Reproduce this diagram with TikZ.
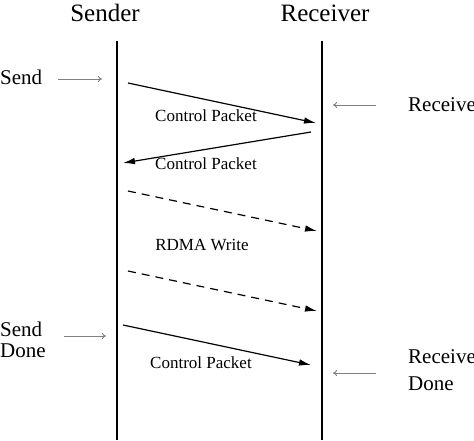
\documentclass[tikz,border=0pt]{standalone}
\usepackage{fontspec}
\setmainfont{Liberation Serif}
\usetikzlibrary{arrows.meta,positioning}
\tikzstyle{title} = [font=\fontsize{25}{30}\selectfont, inner sep=0pt]
\tikzstyle{side}  = [font=\fontsize{21}{21}\selectfont, inner sep=0pt, align=left, anchor=west]
\tikzstyle{lbl}   = [font=\fontsize{17}{20}\selectfont, inner sep=0pt]
\tikzstyle{life}  = [line width=2.6pt]
\tikzstyle{msg}   = [line width=1.2pt, -{Latex[length=12pt,width=6.5pt]}]
\tikzstyle{rdma}  = [msg, dash pattern=on 8pt off 6pt]
\tikzstyle{hint}  = [gray, line width=0.9pt, -{To[length=4pt,width=6pt]}]

\begin{document}
\begin{tikzpicture}[x=1pt,y=-1pt]
		\useasboundingbox (0,0) rectangle (474,440);

		% lifelines
		\node[title] (sender)   at (105,13) {Sender};
		\node[title] (receiver) at (325,13) {Receiver};
		\coordinate (stop) at (117,41);  \coordinate (sbot) at (117,440);
		\coordinate (rtop) at (322,41);  \coordinate (rbot) at (322,440);
		\draw[life] (stop) -- (sbot);
		\draw[life] (rtop) -- (rbot);

		% messages
		\coordinate (m1a) at (128,83);  \coordinate (m1b) at (316,123);
		\coordinate (m2a) at (311,132); \coordinate (m2b) at (123,163);
		\coordinate (m3a) at (128,191); \coordinate (m3b) at (317,231);
		\coordinate (m4a) at (128,271); \coordinate (m4b) at (317,311);
		\coordinate (m5a) at (123,325); \coordinate (m5b) at (311,365);
		\draw[msg]  (m1a) -- (m1b);
		\draw[msg]  (m2a) -- (m2b);
		\draw[rdma] (m3a) -- (m3b);
		\draw[rdma] (m4a) -- (m4b);
		\draw[msg]  (m5a) -- (m5b);
		\node[lbl] (ctrl1) at (206,116) {Control Packet};
		\node[lbl] (ctrl2) at (206,164) {Control Packet};
		\node[lbl] (write) at (202,245) {RDMA Write};
		\node[lbl] (ctrl3) at (201,363) {Control Packet};

		% events
		\node[side] (send)     at (0,77)   {Send};
		\node[side] (senddone) at (0,340)  {Send\\Done};
		\node[side, font=\fontsize{21}{27}\selectfont] (recv)     at (408,105) {Receive};
		\node[side, font=\fontsize{21}{27}\selectfont] (recvdone) at (408,370) {Receive\\Done};
		\coordinate (h1a) at (58,79);  \coordinate (h1b) at (102,79);
		\coordinate (h2a) at (64,336); \coordinate (h2b) at (106,336);
		\coordinate (h3a) at (376,105); \coordinate (h3b) at (333,105);
		\coordinate (h4a) at (376,373); \coordinate (h4b) at (333,373);
		\draw[hint] (h1a) -- (h1b);
		\draw[hint] (h2a) -- (h2b);
		\draw[hint] (h3a) -- (h3b);
		\draw[hint] (h4a) -- (h4b);
	\end{tikzpicture}
\end{document}
